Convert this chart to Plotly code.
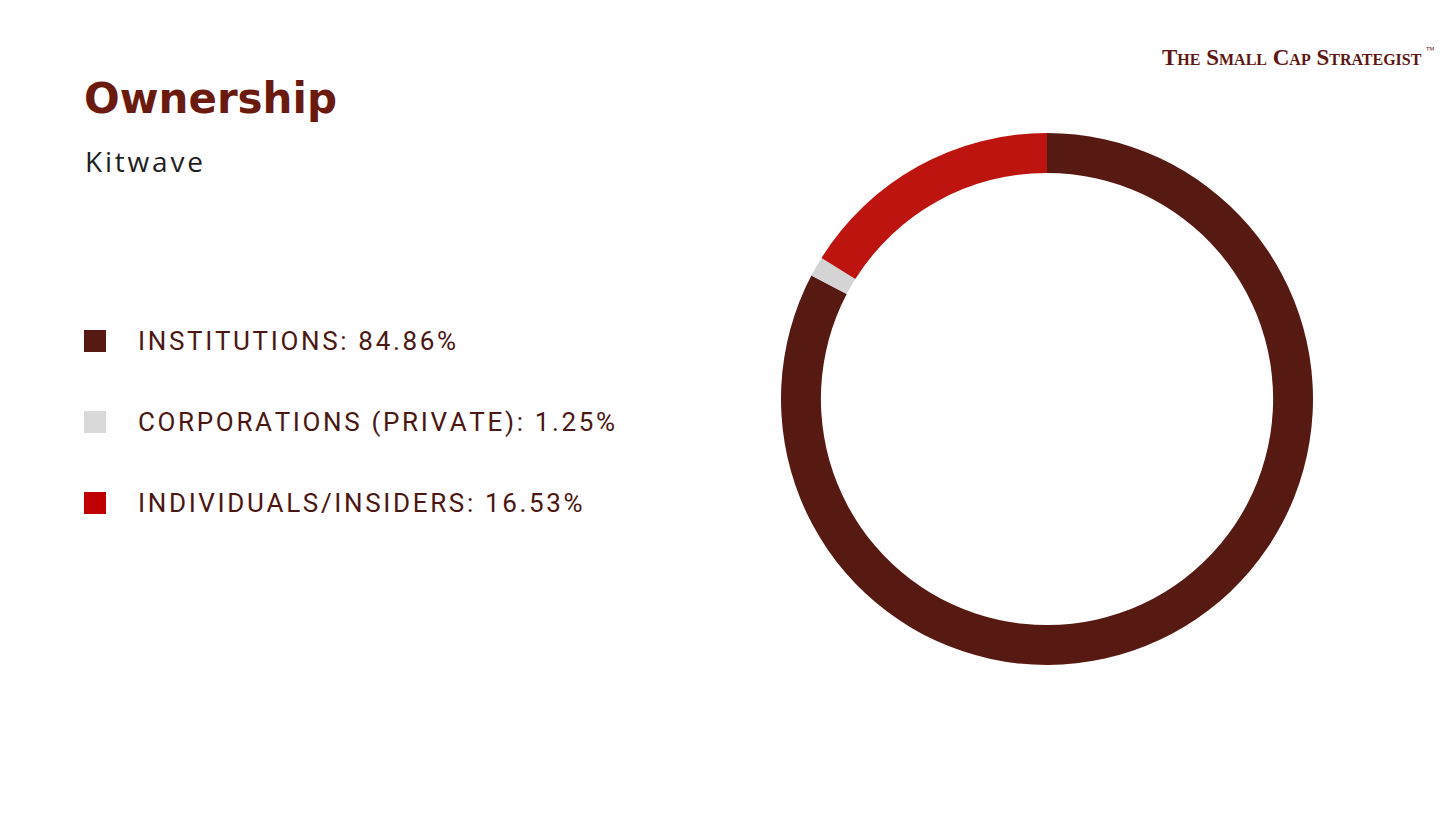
import plotly.graph_objects as go

# Data
categories = ["INSTITUTIONS", "CORPORATIONS (PRIVATE)", "INDIVIDUALS/INSIDERS"]
values = [84.86, 1.25, 16.53]
colors = ["#561A12", "#D4D4D4", "#BE1410"]
legend_colors = ["#561A12", "#D9D9D9", "#C00000"]

title = "Ownership"
subtitle = "Kitwave"
brand = "The Small Cap Strategist"

W, H = 1456, 819
OFF = 8  # page body margin


def px(x):
    return (x - OFF) / W


def py(y):
    return 1 - (y - OFF) / H


fig = go.Figure()
fig.add_trace(go.Pie(
    labels=categories, values=values,
    marker=dict(colors=colors, line=dict(width=0)),
    hole=0.85, sort=False, direction="clockwise", rotation=0,
    textinfo="none", showlegend=False,
    domain=dict(x=[px(1047 - 266), px(1047 + 266)],
                y=[py(665), py(133)]),
))

annotations = [
    dict(text=f"<b>{title}</b>", x=px(82), y=py(98), xref="paper", yref="paper",
         xanchor="left", yanchor="middle", showarrow=False,
         font=dict(family="DejaVu Sans", size=42, color="#6B1A10")),
    dict(text="\u200a".join(subtitle), x=px(83), y=py(161), xref="paper", yref="paper",
         xanchor="left", yanchor="middle", showarrow=False,
         font=dict(family="Open Sans", size=28, color="#1E1E1E")),
    dict(text=f"<b>{brand}</b>", x=px(1424), y=py(57), xref="paper", yref="paper",
         xanchor="right", yanchor="middle", showarrow=False,
         font=dict(family="Liberation Serif", size=23, color="#5E1612", variant="small-caps")),
    dict(text="™", x=px(1424), y=py(50), xref="paper", yref="paper",
         xanchor="left", yanchor="middle", showarrow=False,
         font=dict(family="Liberation Serif", size=9, color="#5E1612")),
]

shapes = []
ys = [341, 422, 503]
for name, val, col, yc in zip(categories, values, legend_colors, ys):
    shapes.append(dict(type="rect", xref="paper", yref="paper",
                       x0=px(84), x1=px(106), y0=py(yc + 11), y1=py(yc - 11),
                       fillcolor=col, line=dict(width=0)))
    label = f"{name}: {val:.2f}%"
    spaced = "\u200a".join(label)
    annotations.append(dict(text=spaced, x=px(136), y=py(yc), xref="paper", yref="paper",
                            xanchor="left", yanchor="middle", showarrow=False,
                            font=dict(family="Roboto", size=26, color="#4A1712")))

fig.update_layout(
    width=W, height=H, margin=dict(l=0, r=0, t=0, b=0),
    paper_bgcolor="white", plot_bgcolor="white",
    annotations=annotations, shapes=shapes,
)

fig.write_html("out.html")
